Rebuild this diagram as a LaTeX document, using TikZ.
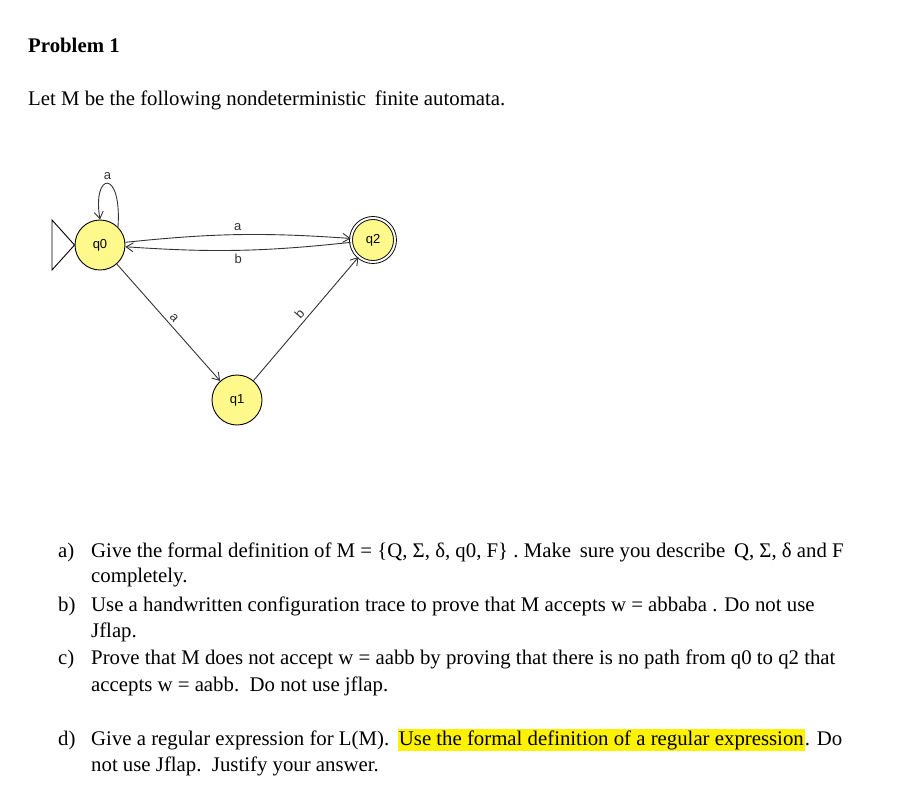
\documentclass[tikz,border=0pt]{standalone}
\usepackage{fontspec}
\setmainfont{Liberation Serif}
\setsansfont{Liberation Sans}
\begin{document}
\begin{tikzpicture}[x=1pt,y=-1pt,
  st/.style={circle,draw,line width=0.9pt,fill=yellow!45,minimum size=50pt,inner sep=0pt,font=\sffamily\fontsize{13}{13}\selectfont},
  lab/.style={font=\sffamily\fontsize{13}{13}\selectfont,text=black!80},
  tx/.style={anchor=west,inner sep=0pt,font=\fontsize{20.8}{24}\selectfont},
  ar/.style={->,>={Straight Barb[length=7pt,width=9pt]},line width=0.9pt,draw=black!80}]
\usetikzlibrary{arrows.meta}
\useasboundingbox (0,0) rectangle (904,806);
\node[tx,font=\bfseries\fontsize{20.8}{24}\selectfont] (t0) at (28,45) {Problem 1};
\node[tx] (t1) at (28,100) {Let M be the following nondeterministic\, finite automata.};
\node[st] (q0) at (100,245) {q0};
\node[st] (q1) at (237,400) {q1};
\node[st,double,double distance=2pt,minimum size=44pt] (q2) at (373,240) {q2};
\coordinate (s1) at (52,220);
\coordinate (s2) at (52,270);
\draw[line width=0.9pt] (q0.west) -- (s1) -- (s2) -- cycle;
\draw[ar] (q0.north east) .. controls (122,168) and (92,172) .. (q0.north) node[lab,pos=0.5,above] {a};
\draw[ar] (q0) to[bend left=5] node[lab,above] {a} (q2);
\draw[ar] (q2) to[bend left=5] node[lab,below] {b} (q0);
\draw[ar] (q0) -- node[lab,sloped,above] {a} (q1);
\draw[ar] (q1) -- node[lab,sloped,above] {b} (q2);
\node[tx] (a1) at (58,552) {a)};
\node[tx] (a2) at (91,552) {Give the formal definition of M = \{Q, Σ, δ, q0, F\} . Make\, sure you describe\, Q, Σ, δ and F};
\node[tx] (a3) at (91,578) {completely.};
\node[tx] (b1) at (58,606) {b)};
\node[tx] (b2) at (91,606) {Use a handwritten configuration trace to prove that M accepts w = abbaba . Do not use};
\node[tx] (b3) at (91,632) {Jflap.};
\node[tx] (c1) at (58,659) {c)};
\node[tx] (c2) at (91,659) {Prove that M does not accept w = aabb by proving that there is no path from q0 to q2 that};
\node[tx] (c3) at (91,686) {accepts w = aabb.\, Do not use jflap.};
\node[tx] (d1) at (58,740) {d)};
\node[tx] (d2) at (91,740) {Give a regular expression for L(M).\, {\fboxsep=1pt\colorbox{yellow}{Use the formal definition of a regular expression}}. Do};
\node[tx] (d3) at (91,766) {not use Jflap.\, Justify your answer.};
\end{tikzpicture}
\end{document}
